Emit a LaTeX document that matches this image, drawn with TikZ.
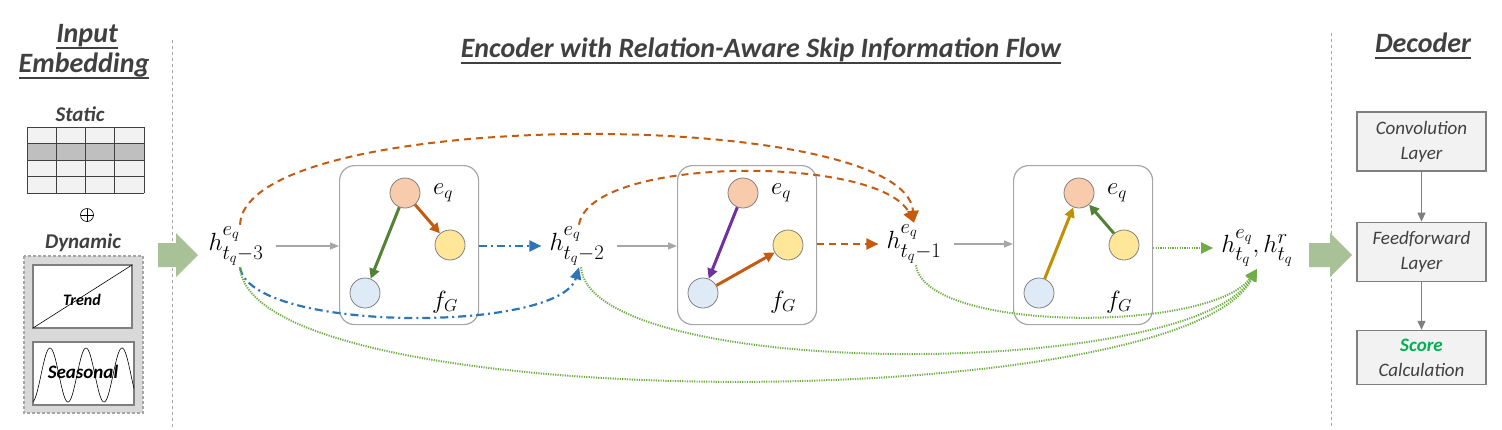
\documentclass[tikz,border=0pt]{standalone}
\usepackage{amsmath}
\usepackage{fontspec}
\setmainfont{Carlito}
\usetikzlibrary{arrows.meta,calc,positioning}

\definecolor{textgray}{HTML}{404040}
\definecolor{boxgray}{HTML}{A6A6A6}
\definecolor{circgray}{HTML}{808080}
\definecolor{peach}{HTML}{F8CBAD}
\definecolor{butter}{HTML}{FFE699}
\definecolor{ice}{HTML}{DEEBF7}
\definecolor{rust}{HTML}{C55A11}
\definecolor{moss}{HTML}{548235}
\definecolor{plum}{HTML}{7030A0}
\definecolor{mustard}{HTML}{BF9000}
\definecolor{skyblue}{HTML}{2E75B6}
\definecolor{leaf}{HTML}{70AD47}
\definecolor{biggreen}{HTML}{A9C196}
\definecolor{decfill}{HTML}{F2F2F2}
\definecolor{decgray}{HTML}{7F7F7F}
\definecolor{scoregreen}{HTML}{00B050}
\definecolor{cellfill}{HTML}{F2F2F2}
\definecolor{cellgray}{HTML}{BFBFBF}
\definecolor{dyngray}{HTML}{D9D9D9}

\tikzset{%
        ttl/.style = {font=\fontsize{28}{32}\selectfont\bfseries\itshape, text=textgray, inner sep=0pt, anchor=base},
        sub/.style = {font=\fontsize{21}{24}\selectfont\bfseries\itshape, text=textgray, inner sep=0pt, anchor=base},
        lbl/.style = {font=\bfseries\itshape, inner sep=0pt},
        uline/.style = {draw=textgray, line width=1.5pt},
        sep/.style = {draw=boxgray, line width=0.8pt, dash pattern=on 3pt off 3pt},
        hnode/.style = {font=\fontsize{28}{30}\selectfont, inner sep=2pt},
        lblm/.style = {font=\fontsize{25}{28}\selectfont, inner sep=0pt},
        fbox/.style = {draw=boxgray, line width=1.2pt, rounded corners=15pt,
                       minimum width=139pt, minimum height=159pt},
        ent/.style = {circle, draw=circgray, line width=0.8pt, minimum size=30pt, inner sep=0pt},
        rel/.style = {line width=3pt, -{Triangle[length=10pt,width=10pt]}},
        feed/.style = {draw=boxgray, line width=1.2pt, -{Triangle[length=9pt,width=7pt]}},
        skipo/.style = {draw=rust, line width=2pt, dash pattern=on 7pt off 5pt,
                        -{Triangle[length=12pt,width=11pt]}},
        skipb/.style = {draw=skyblue, line width=2.2pt, dash pattern=on 8pt off 4pt on 2pt off 4pt,
                        -{Triangle[length=12pt,width=11pt]}},
        skipg/.style = {draw=leaf, line width=2pt, dash pattern=on 1.2pt off 1.2pt,
                        -{Triangle[length=12pt,width=11pt]}},
        decbox/.style = {draw=decgray, fill=decfill, line width=1.2pt, minimum width=129pt,
                         minimum height=59pt, align=center, text=textgray,
                         font=\fontsize{19}{25}\selectfont\itshape},
        dfeed/.style = {draw=decgray, line width=1.2pt, -{Triangle[length=9pt,width=8pt]}}
}

\begin{document}
\begin{tikzpicture}[x=1pt, y=-1pt]
\useasboundingbox (0,0) rectangle (1502,429);

% separators
\draw[sep] (172,40) -- (172,429);
\draw[sep] (1331,33) -- (1331,429);

% titles
\node[ttl] (inp) at (87,42) {Input};
\node[ttl] (emb) at (84,72) {Embedding};
\node[ttl] (enc) at (761,57) {Encoder with Relation-Aware Skip Information Flow};
\node[ttl] (dec) at (1423,52) {Decoder};
\foreach \t in {inp,emb,enc,dec}
  \draw[uline] ([yshift=-6pt]\t.base west) -- ([yshift=-6pt]\t.base east);

% static table
\node[sub] (stat) at (80,121) {Static};
\foreach \r/\c in {0/cellfill,1/cellgray,2/cellfill,3/cellfill}
  \fill[\c] (27,127+16.5*\r) rectangle (144,143.5+16.5*\r);
\foreach \i in {0,...,4} {
  \draw[textgray, line width=0.8pt] (27+29.25*\i,127) -- (27+29.25*\i,193);
  \draw[textgray, line width=0.8pt] (27,127+16.5*\i) -- (144,127+16.5*\i);
}

% oplus
\draw[line width=0.6pt] (87,215) circle[radius=6.5pt];
\draw[line width=0.6pt] (80.5,215) -- (93.5,215) (87,208.5) -- (87,221.5);

% dynamic
\node[sub] (dyn) at (83,248) {Dynamic};
\draw[draw=boxgray, fill=dyngray, line width=1.2pt, dash pattern=on 3pt off 2pt] (24,256) rectangle (143,413);
\draw[draw=decgray, fill=white, line width=1.5pt] (33,265) rectangle (132,328);
\draw[line width=0.6pt] (33,328) -- (132,265);
\node[lbl, font=\fontsize{16}{18}\selectfont\bfseries\itshape] (trend) at (82,300) {Trend};
\draw[draw=decgray, fill=white, line width=1.5pt] (33,342) rectangle (134,405);
\draw[line width=0.6pt] plot[domain=33:134, samples=120, smooth] (\x,{375-27*sin((\x-41)*10)});
\node[lbl, font=\fontsize{19}{22}\selectfont\bfseries\itshape] (seas) at (83,372) {Seasonal};

% big arrows
\fill[biggreen] (158,243) -- (176,243) -- (176,233) -- (198,255) -- (176,277) -- (176,267) -- (158,267) -- cycle;
\fill[biggreen] (1309,243) -- (1330,243) -- (1330,233) -- (1352,255) -- (1330,277) -- (1330,267) -- (1309,267) -- cycle;

% hidden states
\node[hnode] (h1) at (236,246) {$h^{e_q}_{t_q-3}$};
\node[hnode] (h2) at (577,246) {$h^{e_q}_{t_q-2}$};
\node[hnode] (h3) at (914,244) {$h^{e_q}_{t_q-1}$};
\node[hnode] (h4) at (1257,248) {$h^{e_q}_{t_q},h^{r}_{t_q}$};

% graph blocks
\foreach \i/\x in {1/339,2/677,3/1013} {
  \node[fbox, anchor=north west] (g\i) at (\x,165) {};
  \node[ent, fill=peach] (o\i) at (\x+66,193) {};
  \node[ent, fill=butter] (y\i) at (\x+111,245) {};
  \node[ent, fill=ice] (b\i) at (\x+26,293) {};
  \node[lblm] (eq\i) at (\x+104,193) {$e_q$};
  \node[lblm] (fg\i) at (\x+106,302) {$f_G$};
}
\draw[rel, rust] (o1) -- (y1);
\draw[rel, moss] (o1) -- (b1);
\draw[rel, plum] (o2) -- (b2);
\draw[rel, rust] (b2) -- (y2);
\draw[rel, mustard] (b3) -- (o3);
\draw[rel, moss] (y3) -- (o3);

% feed in
\draw[feed, shorten <=10pt] (h1.east) -- (h1.east -| g1.west);
\draw[feed, shorten <=10pt] (h2.east) -- (h2.east -| g2.west);
\draw[feed, shorten <=10pt] (h3.east) -- (h3.east -| g3.west);

% block outputs
\draw[skipb, shorten >=6pt] (g1.east |- h2) -- (h2);
\draw[skipo, shorten >=6pt] (g2.east |- h3) -- (h3);
\draw[skipg, shorten >=6pt] (g3.east |- h4) -- (h4);

% skip flows
\draw[skipo] ([xshift=4pt]h1.north) .. controls (245,106) and (905,106) .. (h3.north);
\draw[skipo] ([xshift=2pt]h2.north) .. controls (590,155) and (880,155) .. (h3.north);
\draw[skipb] ([xshift=4pt]h1.south) .. controls (250,333) and (560,333) .. ([xshift=2pt]h2.south);
\draw[skipg] ([xshift=4pt]h1.south) .. controls (250,418) and (1180,418) .. (h4.south);
\draw[skipg] ([xshift=4pt]h2.south) .. controls (590,381) and (1190,381) .. (h4.south);
\draw[skipg] ([xshift=2pt]h3.south) .. controls (925,333) and (1210,333) .. (h4.south);

% decoder
\node[decbox] (conv) at (1421.5,141.5) {Convolution\\Layer};
\node[decbox, below=50pt of conv] (ff) {Feedforward\\Layer};
\node[decbox, below=48pt of ff, minimum height=54pt] (score) {\textcolor{scoregreen}{\bfseries Score}\\Calculation};
\draw[dfeed] (conv) -- (ff);
\draw[dfeed] (ff) -- (score);
\end{tikzpicture}
\end{document}
